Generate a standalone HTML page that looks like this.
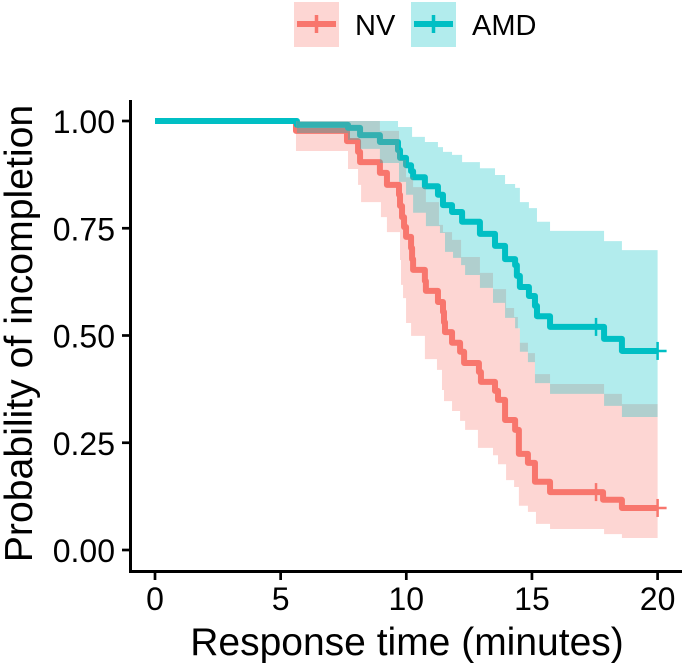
<!DOCTYPE html>
<html>
<head>
<meta charset="utf-8">
<title>Probability of incompletion by response time</title>
<style>
html,body{margin:0;padding:0;background:#fff;}
svg{display:block;}
text{font-family:"Liberation Sans",Arial,sans-serif;fill:#000;}
</style>
</head>
<body>
<svg id="chart" width="685" height="665" viewBox="0 0 685 665" xmlns="http://www.w3.org/2000/svg">
  <g id="lines"></g>
  <g id="ribbons"></g>
  <g id="censors"></g>
  <line x1="130.5" y1="100" x2="130.5" y2="573" stroke="#000" stroke-width="3"/>
  <line x1="129" y1="571.5" x2="682" y2="571.5" stroke="#000" stroke-width="3"/>
  <g id="ticks"></g>
  <text x="407" y="655" font-size="39" text-anchor="middle">Response time (minutes)</text>
  <text transform="translate(32,333.5) rotate(-90)" font-size="39.2" text-anchor="middle">Probability of incompletion</text>
  <g>
    <g>
      <rect x="294" y="2" width="45" height="45" fill="#F8766D" fill-opacity="0.3"/>
      <line x1="297" y1="24" x2="336" y2="24" stroke="#F8766D" stroke-width="6"/>
      <line x1="316.5" y1="15" x2="316.5" y2="33" stroke="#F8766D" stroke-width="3.5"/>
      <text x="355" y="35" font-size="29">NV</text>
    </g>
    <g>
      <rect x="411" y="2" width="45" height="45" fill="#00BFC4" fill-opacity="0.3"/>
      <line x1="414" y1="24" x2="453" y2="24" stroke="#00BFC4" stroke-width="6"/>
      <line x1="433.5" y1="15" x2="433.5" y2="33" stroke="#00BFC4" stroke-width="3.5"/>
      <text x="472" y="35" font-size="29">AMD</text>
    </g>
  </g>
</svg>
<script>
var xTicks = [0, 5, 10, 15, 20];
var yTicks = [0, 0.25, 0.5, 0.75, 1];
var yTickLabels = ["0.00", "0.25", "0.50", "0.75", "1.00"];
var maxTime = 20;
var censorTimes = [17.55, 20];

var nvTimes = [0,5.61,7.64,8.08,8.16,8.95,9.23,9.71,9.75,9.83,9.91,9.99,10.19,10.23,10.27,10.74,10.78,11.26,11.46,11.50,11.54,11.82,12.14,12.30,12.89,12.97,13.53,13.65,13.93,14.33,14.48,14.84,15.12,15.72,17.83,18.58];
var nvProb = [1,.977,.953,.928,.904,.879,.851,.828,.802,.776,.753,.730,.704,.678,.653,.627,.604,.578,.555,.531,.508,.483,.462,.436,.415,.392,.371,.350,.303,.280,.224,.203,.159,.135,.117,.098];
var nvUpperTimes = [0,8.95,9.71,9.75,9.99,10.27,10.78,11.30,11.46,11.82,12.18,12.93,13.45,13.97,14.29,14.44,14.52,14.84,15.12,15.72,17.87,18.58];
var nvUpper = [1,.977,.932,.909,.869,.846,.811,.758,.741,.723,.683,.646,.608,.564,.543,.517,.483,.459,.410,.387,.364,.340];
var nvLowerTimes = [0,5.61,7.68,8.08,8.20,8.99,9.23,9.75,9.79,9.87,9.99,10.19,10.74,11.22,11.42,11.50,11.82,12.14,12.34,12.85,13.45,13.65,13.97,14.29,14.48,14.84,15.16,15.72,17.87,18.58];
var nvLower = [1,.930,.888,.851,.811,.776,.741,.676,.618,.587,.529,.499,.445,.420,.373,.347,.324,.301,.280,.238,.221,.200,.163,.147,.103,.089,.061,.049,.037,.028];

var amdTimes = [0,5.65,7.68,8.16,8.95,9.67,9.75,9.99,10.19,10.27,10.74,11.26,11.46,11.82,12.22,12.93,13.53,13.93,14.33,14.40,14.52,14.88,15.12,15.20,15.72,17.87,18.58];
var amdProb = [1,.991,.984,.967,.951,.932,.914,.897,.883,.869,.848,.828,.804,.788,.765,.737,.709,.678,.664,.639,.613,.592,.569,.545,.520,.492,.464];
var amdUpperTimes = [0,9.67,10.23,10.74,11.26,11.46,11.82,12.22,12.93,13.53,13.93,14.33,14.52,14.88,15.20,15.72,17.87,18.58];
var amdUpper = [1,.986,.963,.951,.939,.928,.921,.904,.890,.874,.853,.844,.811,.797,.765,.744,.720,.699];
var amdLowerTimes = [0,5.65,7.68,8.16,8.95,9.71,9.99,10.27,10.78,11.34,11.54,11.86,12.18,12.34,12.93,13.45,13.93,14.33,14.52,14.84,15.12,15.72,17.87,18.58];
var amdLower = [1,.972,.956,.935,.902,.858,.828,.786,.755,.739,.695,.681,.664,.641,.611,.576,.541,.517,.462,.438,.389,.364,.336,.310];

var SVGNS = "http://www.w3.org/2000/svg";
var NV_COLOR = "#F8766D";
var AMD_COLOR = "#00BFC4";

function xScale(t) { return 155 + t * 25.13; }
function yScale(p) { return 550 - p * 429; }

function stairPoints(times, values) {
  var pts = [];
  for (var i = 0; i < times.length; i++) {
    if (i > 0) pts.push([xScale(times[i]), yScale(values[i - 1])]);
    pts.push([xScale(times[i]), yScale(values[i])]);
  }
  pts.push([xScale(maxTime), yScale(values[values.length - 1])]);
  return pts;
}
function toPath(pts) {
  return pts.map(function (p, i) {
    return (i ? "L" : "M") + p[0].toFixed(2) + " " + p[1].toFixed(2);
  }).join("");
}
function valueAt(times, values, t) {
  var v = values[0];
  for (var i = 0; i < times.length; i++) if (times[i] <= t) v = values[i];
  return v;
}
function make(tag, attrs) {
  var el = document.createElementNS(SVGNS, tag);
  for (var k in attrs) el.setAttribute(k, attrs[k]);
  return el;
}

var linesGroup = document.getElementById("lines");
var ribbonsGroup = document.getElementById("ribbons");
var censorsGroup = document.getElementById("censors");
var ticksGroup = document.getElementById("ticks");

var nvLine = make("path", {d: toPath(stairPoints(nvTimes, nvProb)), fill: "none", stroke: NV_COLOR, "stroke-width": 6, "stroke-linejoin": "round"});


linesGroup.appendChild(nvLine);

var amdLine = make("path", {d: toPath(stairPoints(amdTimes, amdProb)), fill: "none", stroke: AMD_COLOR, "stroke-width": 6, "stroke-linejoin": "round"});


linesGroup.appendChild(amdLine);

var nvRibbon = make("path", {d: toPath(stairPoints(nvUpperTimes, nvUpper).concat(stairPoints(nvLowerTimes, nvLower).reverse())) + "Z", fill: NV_COLOR, "fill-opacity": 0.3});


ribbonsGroup.appendChild(nvRibbon);

var amdRibbon = make("path", {d: toPath(stairPoints(amdUpperTimes, amdUpper).concat(stairPoints(amdLowerTimes, amdLower).reverse())) + "Z", fill: AMD_COLOR, "fill-opacity": 0.3});


ribbonsGroup.appendChild(amdRibbon);

function addCensor(t, p, color) {
  var cx = xScale(t), cy = yScale(p);
  var v = make("line", {x1: cx, y1: cy - 9, x2: cx, y2: cy + 9, stroke: color, "stroke-width": 2.5});
  
  
  censorsGroup.appendChild(v);
  var h = make("line", {x1: cx - 9, y1: cy, x2: cx + 9, y2: cy, stroke: color, "stroke-width": 2.5});
  
  
  censorsGroup.appendChild(h);
}
censorTimes.forEach(function (t) {
  addCensor(t, valueAt(nvTimes, nvProb, t), NV_COLOR);
  addCensor(t, valueAt(amdTimes, amdProb, t), AMD_COLOR);
});

xTicks.forEach(function (t) {
  var x = xScale(t);
  var tick = make("line", {x1: x, y1: 573, x2: x, y2: 580, stroke: "#000", "stroke-width": 2.7});
  
  
  ticksGroup.appendChild(tick);
  var label = make("text", {x: x, y: 610, "font-size": 32, "text-anchor": "middle"});
  
  
  label.textContent = String(t);
  ticksGroup.appendChild(label);
});

yTicks.forEach(function (p, i) {
  var y = yScale(p);
  var tick = make("line", {x1: 122, y1: y, x2: 129, y2: y, stroke: "#000", "stroke-width": 2.7});
  
  
  ticksGroup.appendChild(tick);
  var label = make("text", {x: 115, y: y + 12, "font-size": 32, "text-anchor": "end"});
  
  
  label.textContent = yTickLabels[i];
  ticksGroup.appendChild(label);
});
</script>
</body>
</html>
